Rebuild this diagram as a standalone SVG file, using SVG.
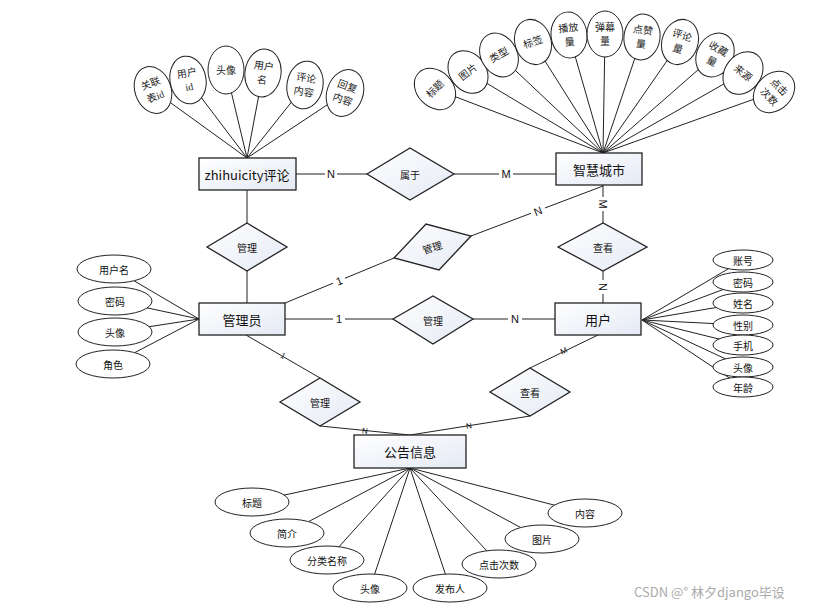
<svg xmlns="http://www.w3.org/2000/svg" width="827" height="609" viewBox="0 0 827 609">
<defs>
<linearGradient id="g" x1="0" y1="0" x2="1" y2="1"><stop offset="0" stop-color="#ffffff"/><stop offset="1" stop-color="#e4e9f4"/></linearGradient>
</defs>
<style>
.e{fill:url(#g);stroke:#222;stroke-width:1.3}
.a{fill:#fff;stroke:#222;stroke-width:1}
.l{stroke:#222;stroke-width:1;fill:none}
.t{font-family:"Noto Sans CJK SC",sans-serif;font-size:13px;fill:#111;text-anchor:middle;dominant-baseline:central}
.s{font-family:"Liberation Serif","Noto Sans CJK SC",serif;font-size:10px;fill:#222;text-anchor:middle;dominant-baseline:central}
.m{font-family:"Noto Sans CJK SC",sans-serif;font-size:10px;fill:#111;text-anchor:middle;dominant-baseline:central}
.c{font-family:"Liberation Sans",sans-serif;font-size:11px;fill:#111;text-anchor:middle;dominant-baseline:central}
</style>
<rect width="827" height="609" fill="#fff"/>
<g id="connectors">
<path class="l" d="M247,158L153,90M247,158L188,80M247,158L226,70M247,158L263,73M247,158L305,85M247,158L345,93"/>
<path class="l" d="M603,153L435,89M603,153L468,72M603,153L499,55M603,153L533,42M603,153L569,35M603,153L605,34M603,153L642,37M603,153L680,42M603,153L715,55M603,153L743,73M603,153L774,92"/>
<path class="l" d="M199,319L114,269M199,319L115,301M199,319L115,332M199,319L113,364"/>
<path class="l" d="M642,320L743,260M642,320L743,282M642,320L743,303M642,320L743,325M642,320L743,345M642,320L743,367M642,320L743,387"/>
<path class="l" d="M410,468L252,502M410,468L287,533M410,468L327,560M410,468L370,588M410,468L450,588M410,468L499,564M410,468L542,539M410,468L585,513"/>
<path class="l" d="M296,174H367M454,174H556M247,190V223M247,271V303M285,303L394,258M471,236L603,186M603,185V223M603,271V303M285,319H393M473,319H555M246,335L320,378M320,426L410,435M598,335L530,368M530,416L410,435"/>
<g fill="#fff">
<rect x="325" y="167" width="12" height="14"/><rect x="499" y="167" width="14" height="14"/>
<rect x="333" y="274" width="12" height="14"/><rect x="531" y="204" width="14" height="14"/>
<rect x="596" y="197" width="14" height="14"/><rect x="596" y="280" width="14" height="14"/>
<rect x="333" y="312" width="12" height="14"/><rect x="508" y="312" width="14" height="14"/>
</g>
<text class="c" x="331" y="174">N</text>
<text class="c" x="506" y="174">M</text>
<text class="c" x="339" y="281" transform="rotate(-22 339 281)">1</text>
<text class="c" x="538" y="211" transform="rotate(-22 538 211)">N</text>
<text class="c" x="603" y="204" transform="rotate(90 603 204)">M</text>
<text class="c" x="603" y="287" transform="rotate(90 603 287)">N</text>
<text class="c" x="339" y="319">1</text>
<text class="c" x="515" y="319">N</text>
<text class="c" x="283" y="356" style="font-size:8px" transform="rotate(30 283 356)">1</text>
<text class="c" x="365" y="431" style="font-size:8px" transform="rotate(6 365 431)">N</text>
<text class="c" x="564" y="351" style="font-size:8px" transform="rotate(-26 564 351)">M</text>
<text class="c" x="469" y="426" style="font-size:8px" transform="rotate(-9 469 426)">N</text>
</g>
<g id="comment"><rect class="e" x="199" y="158" width="97" height="32"/><text class="t" x="247" y="174">zhihuicity评论</text></g>
<g id="city"><rect class="e" x="556" y="153" width="86" height="32"/><text class="t" x="599" y="169">智慧城市</text></g>
<g id="admin"><rect class="e" x="199" y="303" width="86" height="32"/><text class="t" x="242" y="319">管理员</text></g>
<g id="user"><rect class="e" x="555" y="303" width="86" height="32"/><text class="t" x="598" y="319">用户</text></g>
<g id="notice"><rect class="e" x="354" y="435" width="112" height="33"/><text class="t" x="410" y="451">公告信息</text></g>
<g id="r1"><path class="e" d="M367,174L410,148L454,174L410,200Z"/><text class="m" x="410" y="174">属于</text></g>
<g id="r2"><path class="e" d="M207,247L247,223L287,247L247,271Z"/><text class="m" x="247" y="247">管理</text></g>
<g id="r3"><path class="e" d="M394,258L426,224L471,236L439,270Z"/><text class="m" x="432" y="247" transform="rotate(-18 432 247)">管理</text></g>
<g id="r4"><path class="e" d="M393,319L433,296L473,319L433,344Z"/><text class="m" x="433" y="320">管理</text></g>
<g id="r5"><path class="e" d="M558,247L603,223L647,247L603,271Z"/><text class="m" x="603" y="247">查看</text></g>
<g id="r6"><path class="e" d="M280,402L320,378L360,402L320,426Z"/><text class="m" x="320" y="402">管理</text></g>
<g id="r7"><path class="e" d="M490,392L530,368L570,392L530,416Z"/><text class="m" x="530" y="392">查看</text></g>
<g id="commentAttrs">
<g transform="rotate(-20 153 90)"><ellipse class="a" cx="153" cy="90" rx="18" ry="24"/><text class="s" x="153" y="83">关联</text><text class="s" x="153" y="97">表id</text></g>
<g transform="rotate(-10 188 80)"><ellipse class="a" cx="188" cy="80" rx="18" ry="24"/><text class="s" x="188" y="73">用户</text><text class="s" x="188" y="87">id</text></g>
<g><ellipse class="a" cx="226" cy="70" rx="18" ry="24"/><text class="s" x="226" y="70">头像</text></g>
<g transform="rotate(8 263 73)"><ellipse class="a" cx="263" cy="73" rx="18" ry="24"/><text class="s" x="263" y="66">用户</text><text class="s" x="263" y="80">名</text></g>
<g transform="rotate(10 305 85)"><ellipse class="a" cx="305" cy="85" rx="18" ry="24"/><text class="s" x="305" y="78">评论</text><text class="s" x="305" y="92">内容</text></g>
<g transform="rotate(20 345 93)"><ellipse class="a" cx="345" cy="93" rx="18" ry="24"/><text class="s" x="345" y="86">回复</text><text class="s" x="345" y="100">内容</text></g>
</g>
<g id="cityAttrs">
<g transform="rotate(-45 435 89)"><ellipse class="a" cx="435" cy="89" rx="18" ry="23"/><text class="s" x="435" y="89">标题</text></g>
<g transform="rotate(-38 468 72)"><ellipse class="a" cx="468" cy="72" rx="18" ry="23"/><text class="s" x="468" y="72">图片</text></g>
<g transform="rotate(-30 499 55)"><ellipse class="a" cx="499" cy="55" rx="18" ry="23"/><text class="s" x="499" y="55">类型</text></g>
<g transform="rotate(-18 533 42)"><ellipse class="a" cx="533" cy="42" rx="18" ry="23"/><text class="s" x="533" y="42">标签</text></g>
<g transform="rotate(-6 569 35)"><ellipse class="a" cx="569" cy="35" rx="18" ry="23"/><text class="s" x="569" y="28">播放</text><text class="s" x="569" y="42">量</text></g>
<g><ellipse class="a" cx="605" cy="34" rx="18" ry="23"/><text class="s" x="605" y="27">弹幕</text><text class="s" x="605" y="41">量</text></g>
<g transform="rotate(8 642 37)"><ellipse class="a" cx="642" cy="37" rx="18" ry="23"/><text class="s" x="642" y="30">点赞</text><text class="s" x="642" y="44">量</text></g>
<g transform="rotate(18 680 42)"><ellipse class="a" cx="680" cy="42" rx="18" ry="23"/><text class="s" x="680" y="35">评论</text><text class="s" x="680" y="49">量</text></g>
<g transform="rotate(28 715 55)"><ellipse class="a" cx="715" cy="55" rx="18" ry="23"/><text class="s" x="715" y="48">收藏</text><text class="s" x="715" y="62">量</text></g>
<g transform="rotate(38 743 73)"><ellipse class="a" cx="743" cy="73" rx="18" ry="23"/><text class="s" x="743" y="73">来源</text></g>
<g transform="rotate(45 774 92)"><ellipse class="a" cx="774" cy="92" rx="18" ry="23"/><text class="s" x="774" y="85">点击</text><text class="s" x="774" y="99">次数</text></g>
</g>
<g id="adminAttrs">
<ellipse class="a" cx="114" cy="269" rx="37" ry="14"/><text class="m" x="114" y="269">用户名</text>
<ellipse class="a" cx="115" cy="301" rx="37" ry="14"/><text class="m" x="115" y="301">密码</text>
<ellipse class="a" cx="115" cy="332" rx="37" ry="14"/><text class="m" x="115" y="332">头像</text>
<ellipse class="a" cx="113" cy="364" rx="37" ry="14"/><text class="m" x="113" y="364">角色</text>
</g>
<g id="userAttrs">
<ellipse class="a" cx="743" cy="260" rx="30" ry="10"/><text class="m" x="743" y="260">账号</text>
<ellipse class="a" cx="743" cy="282" rx="30" ry="10"/><text class="m" x="743" y="282">密码</text>
<ellipse class="a" cx="743" cy="303" rx="30" ry="10"/><text class="m" x="743" y="303">姓名</text>
<ellipse class="a" cx="743" cy="325" rx="30" ry="10"/><text class="m" x="743" y="325">性别</text>
<ellipse class="a" cx="743" cy="345" rx="30" ry="10"/><text class="m" x="743" y="345">手机</text>
<ellipse class="a" cx="743" cy="367" rx="30" ry="10"/><text class="m" x="743" y="367">头像</text>
<ellipse class="a" cx="743" cy="387" rx="30" ry="10"/><text class="m" x="743" y="387">年龄</text>
</g>
<g id="noticeAttrs">
<ellipse class="a" cx="252" cy="502" rx="37" ry="14"/><text class="m" x="252" y="502">标题</text>
<ellipse class="a" cx="287" cy="533" rx="37" ry="14"/><text class="m" x="287" y="533">简介</text>
<ellipse class="a" cx="327" cy="560" rx="37" ry="14"/><text class="m" x="327" y="560">分类名称</text>
<ellipse class="a" cx="370" cy="588" rx="37" ry="14"/><text class="m" x="370" y="588">头像</text>
<ellipse class="a" cx="450" cy="588" rx="37" ry="14"/><text class="m" x="450" y="588">发布人</text>
<ellipse class="a" cx="499" cy="564" rx="37" ry="14"/><text class="m" x="499" y="564">点击次数</text>
<ellipse class="a" cx="542" cy="539" rx="37" ry="14"/><text class="m" x="542" y="539">图片</text>
<ellipse class="a" cx="585" cy="513" rx="37" ry="14"/><text class="m" x="585" y="513">内容</text>
</g>
<text x="634" y="597" style="font-family:'Noto Sans CJK SC',sans-serif;font-size:13px;fill:#aaa">CSDN @°  林夕django毕设</text>
</svg>
